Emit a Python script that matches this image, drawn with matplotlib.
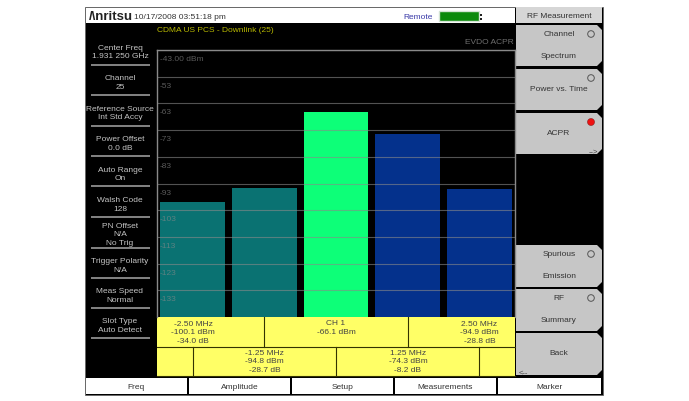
import matplotlib
matplotlib.use("Agg")
import matplotlib.pyplot as plt
from matplotlib.patches import Polygon, Rectangle, Circle

plt.rcParams["font.family"] = ["Liberation Sans", "DejaVu Sans"]

offsets = ["-2.50 MHz", "-1.25 MHz", "CH 1", "1.25 MHz", "2.50 MHz"]
power = [-100.1, -94.8, -66.1, -74.3, -94.9]
relative = ["-34.0 dB", "-28.7 dB", None, "-8.2 dB", "-28.8 dB"]
bar_colors = ["#0a7272", "#0a7272", "#0dff78", "#04318c", "#04318c"]

y_ticks = [-43, -53, -63, -73, -83, -93, -103, -113, -123, -133]
y_labels = ["-43.00 dBm", "-53", "-63", "-73", "-83", "-93", "-103", "-113", "-123", "-133"]

side_params = [
    ("Center Freq\n1.931 250 GHz", 52.5),
    ("Channel\n25", 83),
    ("Reference Source\nInt Std Accy", 113.5),
    ("Power Offset\n0.0 dB", 144),
    ("Auto Range\nOn", 174.5),
    ("Walsh Code\n128", 205),
    ("PN Offset\nN/A\nNo Trig", 235),
    ("Trigger Polarity\nN/A", 266),
    ("Meas Speed\nNormal", 296),
    ("Slot Type\nAuto Detect", 326),
]
side_dividers = [66, 96, 127, 157, 187, 218, 249, 279, 309, 339]

softkeys = [
    (26, 67, ["Channel", "Spectrum"], "off"),
    (70, 111, ["Power vs. Time"], "off"),
    (114, 155, ["ACPR"], "on"),
    (246, 288, ["Spurious", "Emission"], "off"),
    (290, 332, ["RF", "Summary"], "off"),
    (334, 376, ["Back"], None),
]
bottom_keys = ["Freq", "Amplitude", "Setup", "Measurements", "Marker"]
bottom_edges = [85, 188, 291, 394, 497, 602]

fs = 6.0
fig = plt.figure(figsize=(6.89, 4.02), dpi=100, facecolor="white")

# whole-figure axes in pixels for the instrument screen
bg = fig.add_axes([0, 0, 1, 1])
bg.set_xlim(0, 689)
bg.set_ylim(402, 0)
bg.axis("off")

bg.add_patch(Rectangle((85, 8), 518, 388, fc="black", ec="#666666", lw=0.6))
bg.add_patch(Rectangle((86, 9), 429, 15, fc="white", ec="none"))
bg.text(89, 16.5, "/\\nritsu", fontsize=9.5, fontweight="bold", color="#222222", va="center")
bg.text(134, 17.5, "10/17/2008 03:51:18 pm", fontsize=fs, color="#333333", va="center")
bg.text(418, 17.5, "Remote", fontsize=fs, color="#3a3aa8", ha="center", va="center")
bg.add_patch(Rectangle((439, 12), 40, 10, fc="#0b8a0b", ec="#d4e4d4", lw=1))
bg.add_patch(Rectangle((480, 15), 1.5, 1.5, fc="#222222", ec="none"))
bg.add_patch(Rectangle((480, 19), 1.5, 1.5, fc="#222222", ec="none"))

bg.text(157, 30, "CDMA US PCS - Downlink (25)", fontsize=fs, color="#b8b800", va="center")
bg.text(514, 42, "EVDO ACPR", fontsize=fs, color="#6e6e6e", ha="right", va="center")

for label, yc in side_params:
    bg.text(120, yc, label, fontsize=fs, color="#c4c4c4", ha="center", va="center", linespacing=1.25)
for yd in side_dividers:
    bg.plot([91, 150], [yd, yd], color="#9a9a9a", lw=1.2, solid_capstyle="butt")

# softkeys on the right
bg.add_patch(Rectangle((516, 8), 86, 16, fc="#d6d6d6", ec="none"))
bg.text(559, 16.5, "RF Measurement", fontsize=fs, color="#333333", ha="center", va="center")
for top, bot, lines, led in softkeys:
    pts = [(516, top), (597, top), (602, top + 5), (602, bot - 5), (597, bot), (516, bot)]
    bg.add_patch(Polygon(pts, closed=True, fc="#c6c6c6", ec="none"))
    if len(lines) == 2:
        bg.text(559, top + 9, lines[0], fontsize=fs, color="#333333", ha="center", va="center")
        bg.text(559, top + 31, lines[1], fontsize=fs, color="#333333", ha="center", va="center")
    else:
        bg.text(559, (top + bot) / 2 - 1, lines[0], fontsize=fs, color="#333333", ha="center", va="center")
    if led == "off":
        bg.add_patch(Circle((591, top + 9), 3.3, fc="none", ec="#555555", lw=0.7))
    elif led == "on":
        bg.add_patch(Circle((591, top + 9), 3.5, fc="#ee1111", ec="#882222", lw=0.4))
bg.text(593, 152, "-->", fontsize=5.5, color="#444444", ha="center", va="center")
bg.text(523, 373, "<--", fontsize=5.5, color="#444444", ha="center", va="center")

# bottom key row
for i, name in enumerate(bottom_keys):
    left, right = bottom_edges[i], bottom_edges[i + 1]
    bg.add_patch(Rectangle((left + 1, 379), right - left - 2, 16, fc="white", ec="none"))
    bg.text((left + right) / 2, 387.5, name, fontsize=fs, color="#333333", ha="center", va="center")

# bar chart area
px_left, px_right, px_top, px_bot = 157, 515, 51, 318
ax = fig.add_axes([px_left / 689, 1 - px_bot / 402, (px_right - px_left) / 689, (px_bot - px_top) / 402])
ax.set_facecolor("black")
ax.set_xlim(-0.495, 4.495)
ax.set_ylim(-143, -43)
floor = -143
ax.bar(range(len(power)), [p - floor for p in power], width=0.9, bottom=floor, color=bar_colors, zorder=2)
for t, lab in zip(y_ticks, y_labels):
    ax.axhline(t, color="#8a8a8a", lw=0.8, alpha=0.6, zorder=3)
    ax.text(-0.46, t - 3.2, lab, fontsize=fs, color="#8a8a8a", alpha=0.65, va="center", zorder=4)
ax.set_xticks([])
ax.set_yticks([])
for side in ["top", "left", "right"]:
    ax.spines[side].set_color("#8a8a8a")
    ax.spines[side].set_linewidth(1.0)
ax.spines["bottom"].set_visible(False)


def cell_text(i):
    value = f"{power[i]:.1f} dBm"
    if relative[i] is None:
        return f"{offsets[i]}\n{value}"
    return f"{offsets[i]}\n{value}\n{relative[i]}"


# yellow readout table under the bars
bg.add_patch(Rectangle((157, 318), 358, 59, fc="#ffff66", ec="none", zorder=5))
for xs, y0, y1 in [(264, 318, 347.5), (408, 318, 347.5), (193, 347.5, 377), (336, 347.5, 377), (479, 347.5, 377)]:
    bg.plot([xs, xs], [y0, y1], color="#333300", lw=0.8, zorder=6)
bg.plot([157, 515], [347.5, 347.5], color="#333300", lw=0.8, zorder=6)
bg.plot([157, 515], [377, 377], color="#333300", lw=0.8, zorder=6)
table_kw = dict(fontsize=fs, color="#444444", ha="center", va="center", zorder=7, linespacing=1.34)
bg.text(193, 333, cell_text(0), **table_kw)
bg.text(336, 328, cell_text(2), **table_kw)
bg.text(479.5, 333, cell_text(4), **table_kw)
bg.text(264.5, 362, cell_text(1), **table_kw)
bg.text(408, 362, cell_text(3), **table_kw)

# table sits on top of the bar axes
bg.set_zorder(1)
ax.set_zorder(2)
bg.patch.set_visible(False)

fig.savefig("out.png", dpi=100)
